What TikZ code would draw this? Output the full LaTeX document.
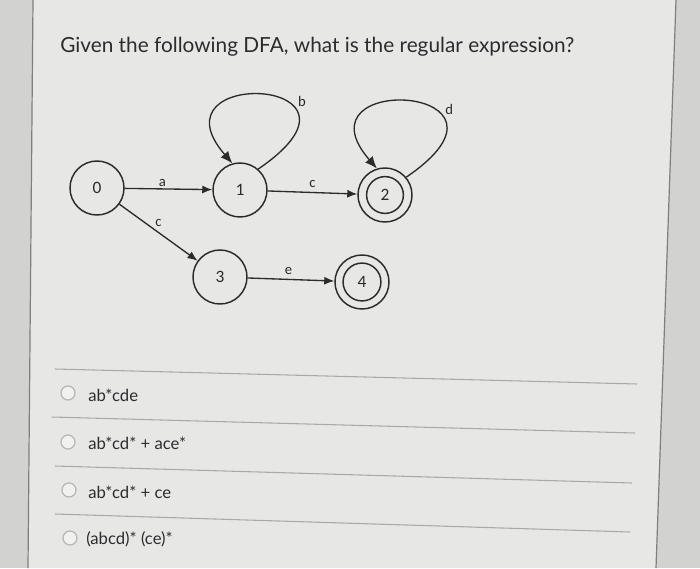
\documentclass[tikz,border=0pt]{standalone}
\usepackage{fontspec}
\setmainfont{Lato}
\newfontfamily\diagfont{Carlito}
\usetikzlibrary{arrows.meta}
\definecolor{outerbg}{HTML}{D2D3D1}
\definecolor{panelbg}{HTML}{E7E8E5}
\definecolor{panelline}{HTML}{7E7F7E}
\definecolor{sepline}{HTML}{A9AAA8}
\definecolor{inkc}{HTML}{2B2B2B}
\definecolor{txtc}{HTML}{2A2C2E}
\definecolor{radioc}{HTML}{B5B6B4}
\tikzset{
  state/.style={circle, draw=inkc, line width=1.1pt, minimum size=40.5pt, inner sep=0pt,
    font=\diagfont\fontsize{13}{15}\selectfont, text=inkc},
  innerring/.style={draw=inkc, line width=1.1pt},
  trans/.style={draw=inkc, line width=1pt, -{Latex[length=7.5pt,width=6pt]}},
  looptrans/.style={draw=inkc, line width=1pt, -{Latex[length=9pt,width=7.5pt]}},
  lbl/.style={font=\diagfont\fontsize{11}{13}\selectfont, text=inkc, inner sep=1pt},
  radio/.style={circle, draw=radioc, line width=0.9pt, fill=panelbg!60!white, minimum size=10.5pt, inner sep=0pt},
  opt/.style={anchor=west, inner sep=0pt, text=txtc, font=\fontsize{12.5}{15}\selectfont},
  sep/.style={draw=sepline, line width=0.8pt}
}
\begin{document}
\begin{tikzpicture}[x=0.75pt,y=-0.75pt]
\useasboundingbox (0,0) rectangle (700,568);
\fill[outerbg] (0,0) rectangle (700,568);
\fill[panelbg] (33,0) -- (676,0) -- (656,568) -- (28,568) -- cycle;
\draw[panelline, line width=0.9pt] (33,0) -- (28,568);
\draw[panelline, line width=0.9pt] (676,0) -- (656,568);

\node[anchor=west, inner sep=0pt, text=txtc, font=\fontsize{15.6}{18}\selectfont] (title) at (60,47)
  {Given the following DFA, what is the regular expression?};

% states
\node[state] (n0) at (97,188) {0};
\node[state] (n1) at (240,190) {1};
\node[state] (n2) at (385,195) {2};
\node[state] (n3) at (220,277) {3};
\node[state] (n4) at (362,282) {4};
\draw[innerring] (n2.center) circle[radius=13.8pt];
\draw[innerring] (n4.center) circle[radius=14.2pt];

% transitions
\draw[trans] (n0) -- node[lbl, above, pos=0.43] (la) {a} (n1);
\draw[trans] (n1) -- node[lbl, above=2pt, pos=0.5] (lc1) {c} (n2);
\draw[trans] (n0) -- node[lbl, above=3pt, pos=0.5] (lc2) {c} (n3);
\draw[trans] (n3) -- node[lbl, above=2pt, pos=0.47] (le) {e} (n4);
\draw[looptrans] (n1.49) .. controls +(135,-92) and +(-85,-98) .. node[lbl, pos=0.3, anchor=south west] (lb) {b} (n1.106);
\draw[looptrans] (n2.40) .. controls +(135,-92) and +(-85,-98) .. node[lbl, pos=0.3, anchor=south west] (ld) {d} (n2.107);

% separators
\draw[sep] (55,369) -- (637,384);
\draw[sep] (52,417) -- (635,433);
\draw[sep] (55,466) -- (632,483);
\draw[sep] (55,514) -- (630,532);

% options
\node[radio] (r1) at (68,393) {};
\node[radio] (r2) at (68,442) {};
\node[radio] (r3) at (69,490) {};
\node[radio] (r4) at (70,538) {};
\node[opt] (o1) at (88,395) {ab*cde};
\node[opt] (o2) at (88,443) {ab*cd* + ace*};
\node[opt] (o3) at (88,492) {ab*cd* + ce};
\node[opt] (o4) at (86,539) {(abcd)* (ce)*};
\end{tikzpicture}
\end{document}
